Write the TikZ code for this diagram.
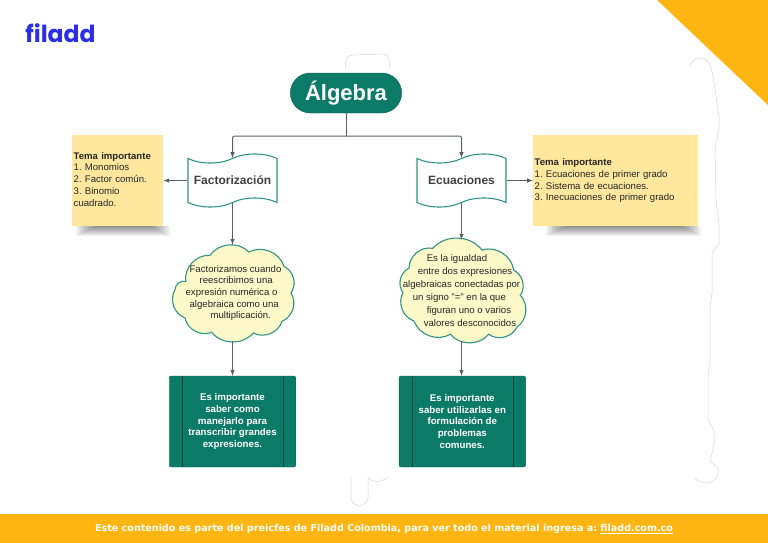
\documentclass[tikz,border=0pt]{standalone}
\usepackage{fontspec}
\setmainfont{Liberation Sans}
\newfontfamily\logofont{Poppins}
\newfontfamily\footfont{DejaVu Sans}
\usetikzlibrary{shapes.symbols,shapes.misc}
\definecolor{tealbox}{HTML}{0B7A66}
\definecolor{tealline}{HTML}{2E9485}
\definecolor{notefill}{HTML}{FFE79E}
\definecolor{cloudfill}{HTML}{FDF9C9}
\definecolor{bandfill}{HTML}{FFB612}
\definecolor{logoblue}{HTML}{2A2FE6}
\definecolor{arrowgray}{HTML}{5A5F66}
\frenchspacing
\begin{document}
\begin{tikzpicture}[x=1pt,y=-1pt]
\tikzstyle{every node}=[font=\fontsize{9.6}{11.7}\selectfont,text=black!85]
\tikzstyle{pill}=[rounded rectangle,fill=tealbox,draw=tealbox!80!black,minimum width=118pt,minimum height=40pt,text=white,font=\fontsize{22}{26}\selectfont\bfseries]
\tikzstyle{wave}=[tape,tape bend top=in and out,tape bend bottom=in and out,tape bend height=9pt,draw=tealline,line width=1.1pt,fill=white,minimum width=89pt,minimum height=53pt,inner sep=0pt,text=black!75,font=\fontsize{12}{14}\selectfont\bfseries]
\tikzstyle{note}=[fill=notefill,inner sep=1.5pt,align=left,anchor=north west,minimum height=91pt]
\tikzstyle{puff}=[draw=tealline,line width=1.1pt,fill=cloudfill]
\tikzstyle{bulge}=[bend left=50]
\tikzstyle{thought}=[inner sep=0pt,align=left]
\tikzstyle{proc}=[fill=tealbox,draw=tealbox!80!black,rounded corners=2pt,minimum width=126.5pt,minimum height=91pt,text=white,align=center,font=\fontsize{9.7}{11.9}\selectfont\bfseries]
\tikzstyle{link}=[draw=arrowgray,line width=1pt,-latex]
\useasboundingbox (0,0) rectangle (768,543);
\fill[white] (0,0) rectangle (768,543);
\fill[bandfill] (657,0) -- (768,0) -- (768,105) -- cycle;
\fill[bandfill] (0,514) rectangle (768,543);
\node (logo) at (60.5,33) [text=logoblue,font=\logofont\fontsize{23.5}{26}\selectfont\bfseries] {filadd};
\node (foot) at (384,529) [text=white,font=\footfont\fontsize{9.6}{11}\selectfont\bfseries] {Este contenido es parte del preicfes de Filadd Colombia, para ver todo el material ingresa a: \underline{filadd.com.co}};
% faint traces
\draw[black!15,line width=0.5pt] (346,68) .. controls (344,60) and (347,55) .. (354,55) -- (384,54) .. controls (390,56) and (390,62) .. (389,68);
\draw[black!15,line width=0.5pt] (690,66) .. controls (692,58) and (703,54) .. (709,63) .. controls (714,72) and (716,100) .. (719,117) .. controls (720,130) and (716,140) .. (715,150) -- (716,200) -- (719,223) -- (719,243) -- (712,253) -- (712,293) -- (710,307) -- (710,360) -- (708,373) -- (708,420) .. controls (712,426) and (716,434) .. (715,440) -- (710,462) .. controls (716,464) and (720,470) .. (718,473) .. controls (716,484) and (704,486) .. (694,478);
\draw[black!15,line width=0.5pt] (351,478) -- (351,498) .. controls (352,508) and (367,508) .. (368,498) -- (368,478) .. controls (372,482) and (380,484) .. (388,477);
% title
\node (title) at (346,93) [pill] {Álgebra};
% shadows
\foreach \i in {0,...,9} {
  \fill[black,opacity=0.05] (76+2*\i,226) rectangle (170-2*\i,236-\i);
  \fill[black,opacity=0.05] (546+2*\i,226) rectangle (701-2*\i,236-\i);
}
% notes
\node (noteA) at (72,135) [note,text width=88pt] {\textbf{Tema importante}\\1. Monomios\\2. Factor común.\\3. Binomio\\cuadrado.\par\vspace{3pt}};
\node (noteB) at (533,135) [note,text width=162pt] {\textbf{Tema importante}\\1. Ecuaciones de primer grado\\2. Sistema de ecuaciones.\\3. Inecuaciones de primer grado};
% flags
\node (fact) at (232.5,180.5) [wave] {Factorización};
\node (ecua) at (461.5,180.5) [wave] {Ecuaciones};
% clouds
\draw[puff] (185.7,281.3) to[bulge] (210,255.3) to[bulge] (249,252) to[bulge] (284,266.3) to[bulge] (291,293) to[bulge] (282,321.3) to[bulge] (253.3,333) to[bulge] (211.7,332.3) to[bulge] (185,318) to[bulge] (175,289.7) to[bulge] cycle;
\draw[puff] (409,268) to[bulge] (432.7,248.3) to[bulge] (482,250) to[bulge] (513.7,270.3) to[bulge] (520.3,295.3) to[bulge] (517,327) to[bulge] (488.7,334.3) to[bulge] (450.3,334.3) to[bulge] (414,321) to[bulge] (403,292.7) to[bulge] cycle;
\node (cloudA) at (232.5,293) [thought,minimum width=120pt,minimum height=96pt,xshift=1pt] {\hspace*{4pt}Factorizamos cuando\\\hspace*{14pt}reescribimos una\\expresión numérica o\\\hspace*{4pt}algebraica como una\\\hspace*{25pt}multiplicación.};
\node (cloudB) at (461.5,290.5) [thought,minimum width=127pt,minimum height=101pt,font=\fontsize{9.6}{12.9}\selectfont] {\hspace*{24pt}Es la igualdad\\\hspace*{15pt}entre dos expresiones\\algebraicas conectadas por\\\hspace*{10pt}un signo "=" en la que\\\hspace*{24pt}figuran uno o varios\\\hspace*{21pt}valores desconocidos};
% boxes
\node (procA) at (232.5,421.5) [proc] {Es importante\\saber como\\manejarlo para\\transcribir grandes\\expresiones.};
\node (procB) at (462.3,421.5) [proc] {Es importante\\saber utilizarlas en\\formulación de\\problemas\\comunes.};
\draw[black!45!tealbox] (procA.north west) ++(13,0) -- ++(0,91) (procA.north east) ++(-13,0) -- ++(0,91);
\draw[black!45!tealbox] (procB.north west) ++(13,0) -- ++(0,91) (procB.north east) ++(-13,0) -- ++(0,91);
% connectors
\coordinate (split) at (title.south |- 0,136);
\draw[draw=arrowgray,line width=1pt] (title.south) -- (split);
\draw[link,rounded corners=2pt] (split) -| (fact.north);
\draw[link,rounded corners=2pt] (split) -| (ecua.north);
\draw[link] (fact.west) -- (noteA.east |- fact.west);
\draw[link] (ecua.east) -- (noteB.west |- ecua.east);
\draw[link] (fact.south) -- (fact.south |- cloudA.north);
\draw[link] (ecua.south) -- (cloudB.north);
\draw[link] (fact.south |- cloudA.south) -- (procA.north);
\draw[link] (cloudB.south) -- (cloudB.south |- procB.north);
\end{tikzpicture}
\end{document}
